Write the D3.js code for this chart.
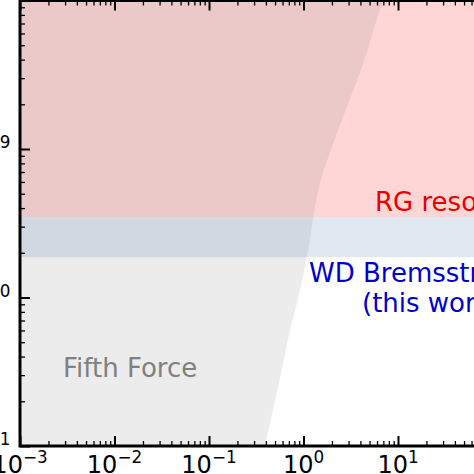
<!DOCTYPE html>
<html>
<head>
<meta charset="utf-8">
<script src="https://cdn.jsdelivr.net/npm/d3@7"></script>
<style>
  html, body { margin: 0; padding: 0; background: #fff; overflow: hidden; }
  text { font-family: "DejaVu Sans", sans-serif; }
</style>
</head>
<body>
<script>
// tick values and labels
var xTicks = [1e-3, 1e-2, 1e-1, 1, 10, 100];
var xTickExp = ["\u22123", "\u22122", "\u22121", "0", "1", "2"];
var yTicks = [1e-11, 1e-10, 1e-9, 1e-8];
var yTickExp = ["\u221211", "\u221210", "\u22129", "\u22128"];

// fifth force exclusion boundary
var fifthForceMass = [0.39, 0.56, 0.72, 0.92, 1.12, 1.50, 2.26, 4.16, 6.94, 8.5];
var fifthForceCoupling = [1e-11, 2.8e-11, 6.0e-11, 1.12e-10, 2.09e-10, 5.9e-10, 1.28e-9, 3.56e-9, 1e-8, 1.4e-8];

// horizontal bands
var rgBand = [3.48e-10, 1e-8];
var wdBand = [1.87e-10, 3.48e-10];

var width = 474, height = 474;
var plot = {left: 20, top: 0.5, right: 492.5, bottom: 446};

var x = d3.scaleLog().domain([1e-3, 1e2]).range([plot.left, plot.right]);
var y = d3.scaleLog().domain([1e-11, 1e-8]).range([plot.bottom, plot.top]);

var svg = d3.select("body").append("svg")
    .attr("width", width)
    .attr("height", height);

svg.append("clipPath").attr("id", "clip")
    .append("rect")
    .attr("x", plot.left).attr("y", plot.top)
    .attr("width", plot.right - plot.left)
    .attr("height", plot.bottom - plot.top);

var area = svg.append("g").attr("clip-path", "url(#clip)");

// RG band
area.append("rect")
    .attr("x", x(1e-3)).attr("width", x(1e2) - x(1e-3))
    .attr("y", y(rgBand[1])).attr("height", y(rgBand[0]) - y(rgBand[1]))
    .attr("fill", "#ff0000").attr("fill-opacity", 0.16);

// WD band
area.append("rect")
    .attr("x", x(1e-3)).attr("width", x(1e2) - x(1e-3))
    .attr("y", y(wdBand[1])).attr("height", y(wdBand[0]) - y(wdBand[1]))
    .attr("fill", "#053f93").attr("fill-opacity", 0.12);

// fifth force region, from left edge to a smooth boundary
var ffPts = fifthForceMass.map(function(m, i) { return [m, fifthForceCoupling[i]]; });
var boundary = d3.line()
    .x(function(d) { return x(d[0]); })
    .y(function(d) { return y(d[1]); })
    .curve(d3.curveMonotoneY)(ffPts);
var topY = y(fifthForceCoupling[fifthForceCoupling.length - 1]);
area.append("path")
    .attr("d", boundary + "L" + x(1e-3) + "," + topY + "L" + x(1e-3) + "," + y(1e-11) + "Z")
    .attr("fill", "#808080").attr("fill-opacity", 0.15);

// annotations
svg.append("text").attr("x", 375).attr("y", 211)
    .attr("font-size", 26).attr("fill", "#e80000").text("RG resonance");
svg.append("text").attr("x", 309).attr("y", 282)
    .attr("font-size", 26).attr("fill", "mediumblue").text("WD Bremsstrahlung");
svg.append("text").attr("x", 362).attr("y", 312)
    .attr("font-size", 26).attr("fill", "mediumblue").text("(this work)");
svg.append("text").attr("x", 63).attr("y", 377)
    .attr("font-size", 26).attr("fill", "gray").text("Fifth Force");

// minor tick values
var xMinor = [], yMinor = [];
for (var k = -3; k < 2; k++) for (var m = 2; m < 10; m++) xMinor.push(m * Math.pow(10, k));
for (var k = -11; k < -8; k++) for (var m = 2; m < 10; m++) yMinor.push(m * Math.pow(10, k));

var axes = [
    {fn: d3.axisBottom, s: x, t: "translate(0," + plot.bottom + ")", minor: xMinor, major: xTicks},
    {fn: d3.axisTop, s: x, t: "translate(0," + plot.top + ")", minor: xMinor, major: xTicks},
    {fn: d3.axisLeft, s: y, t: "translate(" + plot.left + ",0)", minor: yMinor, major: yTicks}
];
axes.forEach(function(a) {
    var gMin = svg.append("g").attr("transform", a.t)
        .call(a.fn(a.s).tickValues(a.minor).tickSize(-5).tickFormat(""));
    gMin.select(".domain").remove();
    gMin.selectAll("line").attr("stroke", "#000").attr("stroke-width", 1.3);
    var gMaj = svg.append("g").attr("transform", a.t)
        .call(a.fn(a.s).tickValues(a.major).tickSize(-10).tickFormat(""));
    gMaj.select(".domain").remove();
    gMaj.selectAll("line").attr("stroke", "#000").attr("stroke-width", 2);
});

// spines
svg.append("rect")
    .attr("x", plot.left).attr("y", plot.top)
    .attr("width", plot.right - plot.left)
    .attr("height", plot.bottom - plot.top)
    .attr("fill", "none").attr("stroke", "#000").attr("stroke-width", 3);

// x tick labels
var xl = svg.append("g").selectAll("text")
    .data(xTicks).enter().append("text")
    .attr("x", function(d) { return x(d); })
    .attr("y", plot.bottom + 27)
    .attr("text-anchor", "middle")
    .attr("font-size", 24);
xl.append("tspan").text("10");
xl.append("tspan").attr("dy", -10).attr("font-size", 16.8)
    .text(function(d, i) { return xTickExp[i]; });

// y tick labels
var yl = svg.append("g").selectAll("text")
    .data(yTicks).enter().append("text")
    .attr("x", 10.5)
    .attr("y", function(d) { return y(d) + 9; })
    .attr("text-anchor", "end")
    .attr("font-size", 24);
yl.append("tspan").text("10");
yl.append("tspan").attr("dy", -10).attr("font-size", 16.8)
    .text(function(d, i) { return yTickExp[i]; });
</script>
</body>
</html>
